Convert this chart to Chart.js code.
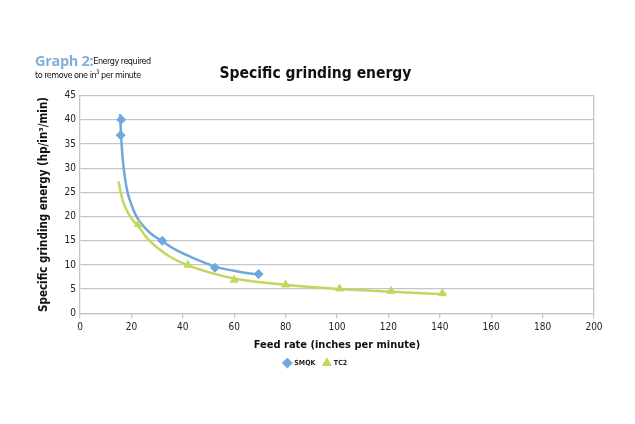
<!DOCTYPE html>
<html>
<head>
<meta charset="utf-8">
<script src="https://cdn.jsdelivr.net/npm/chart.js@4.4.1/dist/chart.umd.min.js"></script>
<style>
  html, body { margin: 0; padding: 0; background: #fff; }
  #wrap { position: relative; width: 635px; height: 424px; overflow: hidden; }
  #note { position: absolute; left: 35px; top: 55px; font-family: 'Liberation Sans Narrow', 'DejaVu Sans Condensed', 'Liberation Sans', sans-serif; color: #111; line-height: 12px; }
  #note .g { color: #7fb0dc; font-weight: bold; font-size: 14.5px; font-family: 'Open Sans', 'Liberation Sans', sans-serif; letter-spacing: -0.3px; }
  #note .s { font-size: 9px; letter-spacing: -0.5px; vertical-align: 2px; }
  #note .s2 { font-size: 9px; letter-spacing: -0.5px; }
  #note sup { font-size: 6px; vertical-align: 4px; line-height: 0; }
</style>
</head>
<body>
<div id="wrap">
  <canvas id="c" width="635" height="424"></canvas>
  <div id="note"><span class="g">Graph 2:</span><span class="s">Energy required</span><br><span class="s2">to remove one in<sup>3</sup> per minute</span></div>
</div>
<script>
// ---- data ----
const seriesNames = ['SMQK', 'TC2'];
const smqkX = [16, 15.8, 32, 52.5, 69.5];
const smqkY = [40, 36.8, 15, 9.4, 8.1];
const tc2X = [22.7, 42, 60, 80, 101, 121, 141];
const tc2Y = [18.4, 10, 6.9, 5.9, 5.1, 4.6, 4.1];
// trend curves
const smqkCurveX = [15.6, 16.0, 16.6, 17.5, 18.5, 20, 22, 25, 28, 32, 37, 42.5, 53, 62, 69.5];
const smqkCurveY = [41.2, 36.6, 32.0, 28.0, 25.0, 22.5, 20.0, 17.8, 16.3, 14.9, 13.2, 11.8, 9.6, 8.6, 8.0];
const tc2CurveX = [15.0, 15.8, 16.7, 18, 20, 22.7, 26, 30, 35, 42, 52, 61, 80, 101, 121, 142.5];
const tc2CurveY = [27.3, 25.0, 23.2, 21.5, 19.6, 18.0, 15.6, 13.6, 11.7, 9.9, 8.2, 7.1, 5.9, 5.0, 4.45, 3.95];
const xTicks = [0, 20, 40, 60, 80, 100, 120, 140, 160, 180, 200];
const yTicks = [0, 5, 10, 15, 20, 25, 30, 35, 40, 45];

const pts = (xs, ys) => xs.map((x, i) => ({ x: x, y: ys[i] }));
const BLUE = '#6fa8dc';
const GREEN = '#c2d75f';
const FONT = "'Liberation Sans Narrow', 'DejaVu Sans Condensed', 'Liberation Sans', sans-serif";
const GRID = '#c6c6c6';

new Chart(document.getElementById('c'), {
  type: 'scatter',
  data: {
    datasets: [
      { label: seriesNames[0], data: pts(smqkX, smqkY), order: 0,
        pointStyle: 'rectRot', pointRadius: 4.5, backgroundColor: BLUE, borderColor: BLUE, showLine: false },
      { label: seriesNames[1], data: pts(tc2X, tc2Y), order: 0,
        pointStyle: 'triangle', pointRadius: 4.5, backgroundColor: GREEN, borderColor: GREEN, showLine: false },
      { label: 'trend1', data: pts(smqkCurveX, smqkCurveY), order: 1, showLine: true,
        cubicInterpolationMode: 'monotone', borderColor: BLUE, borderWidth: 2.5, pointRadius: 0, fill: false },
      { label: 'trend2', data: pts(tc2CurveX, tc2CurveY), order: 1, showLine: true,
        cubicInterpolationMode: 'monotone', borderColor: GREEN, borderWidth: 2.5, pointRadius: 0, fill: false }
    ]
  },
  options: {
    responsive: false,
    animation: false,
    devicePixelRatio: 1,
    layout: { padding: { left: 37, right: 41, top: 0, bottom: 47.5 } },
    plugins: {
      title: { display: true, text: 'Specific grinding energy', color: '#111',
        font: { family: FONT, size: 15.5, weight: 'bold' }, padding: { top: 65, bottom: 12 } },
      legend: { position: 'bottom',
        labels: { usePointStyle: true, boxWidth: 9, boxHeight: 9, padding: 8, color: '#222',
          font: { family: FONT, size: 7, weight: 'bold' },
          filter: (item) => seriesNames.includes(item.text) } },
      tooltip: { enabled: false }
    },
    scales: {
      x: { type: 'linear', min: 0, max: 200,
        afterBuildTicks: (s) => { s.ticks = xTicks.map(v => ({ value: v })); },
        ticks: { color: '#222', font: { family: FONT, size: 10 }, padding: 3, maxRotation: 0 },
        grid: { color: (c) => (c.tick && c.tick.value === 200 ? GRID : 'rgba(0,0,0,0)'),
          tickColor: GRID, tickLength: 5, lineWidth: 1.3 },
        border: { display: true, color: GRID, width: 1.3 },
        title: { display: true, text: 'Feed rate (inches per minute)', color: '#111',
          font: { family: FONT, size: 11, weight: 'bold' }, padding: { top: 2, bottom: 0 } }
      },
      y: { type: 'linear', min: 0, max: 45,
        afterBuildTicks: (s) => { s.ticks = yTicks.map(v => ({ value: v })); },
        afterFit: (s) => { s.width = 43; },
        ticks: { color: '#222', font: { family: FONT, size: 10 }, padding: 4 },
        grid: { color: GRID, lineWidth: 1.3, drawTicks: false },
        border: { display: true, color: GRID, width: 1.3 },
        title: { display: true, text: 'Specific grinding energy (hp/in³/min)', color: '#111',
          font: { family: FONT, size: 11.5, weight: 'bold' }, padding: 0 }
      }
    }
  }
});
</script>
</body>
</html>
